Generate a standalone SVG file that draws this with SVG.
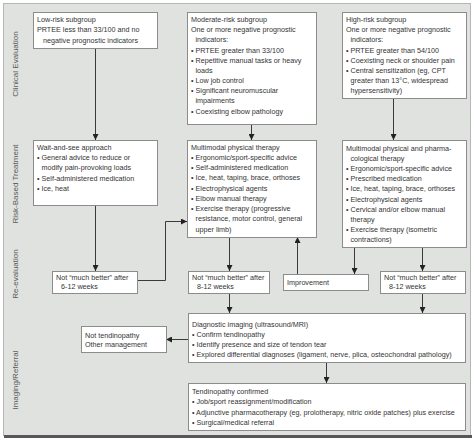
<svg xmlns="http://www.w3.org/2000/svg" width="474" height="438" viewBox="0 0 474 438">
<style>
.box{fill:#fff;stroke:#8c8c8c;stroke-width:1}
.t{font-family:"Liberation Sans",Arial,sans-serif;font-size:7.2px;fill:#333}
.lane{font-family:"Liberation Sans",Arial,sans-serif;font-size:8px;fill:#5a5a5a;text-anchor:middle}
.c{stroke:#3a3a3a;stroke-width:1;fill:none;marker-end:url(#ah)}
</style>
<defs>
<marker id="ah" markerUnits="userSpaceOnUse" markerWidth="6" markerHeight="6" refX="6" refY="3" orient="auto">
<path d="M0,0 L6,3 L0,6 z" fill="#222"/>
</marker>
</defs>
<rect x="0" y="0" width="474" height="438" fill="#fff"/>
<rect x="3.5" y="3.5" width="467" height="432" fill="#dfe2df" stroke="#b4b7b4"/>
<rect x="4" y="435" width="468" height="3" fill="#575757"/>

<g id="lanes">
<text class="lane" transform="translate(18,64) rotate(-90)">Clinical Evaluation</text>
<text class="lane" transform="translate(18,184) rotate(-90)">Risk-Based Treatment</text>
<text class="lane" transform="translate(18,274) rotate(-90)">Re-evaluation</text>
<text class="lane" transform="translate(18,380) rotate(-90)">Imaging/Referral</text>
</g>

<g id="connectors">
<line class="c" x1="95.5" y1="48" x2="95.5" y2="140"/>
<line class="c" x1="251.5" y1="124" x2="251.5" y2="140"/>
<line class="c" x1="393.5" y1="98" x2="393.5" y2="140"/>
<line class="c" x1="95.5" y1="205" x2="95.5" y2="271"/>
<polyline class="c" points="137,280.5 165.5,280.5 165.5,221.5 187,221.5"/>
<line class="c" x1="229.5" y1="237" x2="229.5" y2="271"/>
<line class="c" x1="297.5" y1="274" x2="297.5" y2="237"/>
<line class="c" x1="354.5" y1="247" x2="354.5" y2="274"/>
<line class="c" x1="422.5" y1="247" x2="422.5" y2="271"/>
<line class="c" x1="229.5" y1="293" x2="229.5" y2="313"/>
<line class="c" x1="422.5" y1="293" x2="422.5" y2="313"/>
<line class="c" x1="188" y1="339.5" x2="166" y2="339.5"/>
<line class="c" x1="326.5" y1="362" x2="326.5" y2="383"/>
</g>

<g id="low-risk">
<rect class="box" x="33.5" y="12.5" width="124" height="36"/>
<text class="t" x="37" y="22">Low-risk subgroup</text>
<text class="t" x="37" y="32">PRTEE less than 33/100 and no</text>
<text class="t" x="43" y="42.5">negative prognostic indicators</text>
</g>

<g id="moderate-risk">
<rect class="box" x="187.5" y="12.5" width="129" height="112"/>
<text class="t" x="191" y="22">Moderate-risk subgroup</text>
<text class="t" x="191" y="32">One or more negative prognostic</text>
<text class="t" x="195.5" y="42">indicators:</text>
<text class="t" x="191" y="52.5">• PRTEE greater than 33/100</text>
<text class="t" x="191" y="62.5">• Repetitive manual tasks or heavy</text>
<text class="t" x="195.5" y="72.5">loads</text>
<text class="t" x="191" y="83">• Low job control</text>
<text class="t" x="191" y="93">• Significant neuromuscular</text>
<text class="t" x="195.5" y="103">impairments</text>
<text class="t" x="191" y="113.5">• Coexisting elbow pathology</text>
</g>

<g id="high-risk">
<rect class="box" x="342.5" y="12.5" width="124" height="86"/>
<text class="t" x="346" y="22">High-risk subgroup</text>
<text class="t" x="346" y="32">One or more negative prognostic</text>
<text class="t" x="350.5" y="42">indicators:</text>
<text class="t" x="346" y="52.5">• PRTEE greater than 54/100</text>
<text class="t" x="346" y="62.5">• Coexisting neck or shoulder pain</text>
<text class="t" x="346" y="72.5">• Central sensitization (eg, CPT</text>
<text class="t" x="350.5" y="83">greater than 13°C, widespread</text>
<text class="t" x="350.5" y="93">hypersensitivity)</text>
</g>

<g id="wait-and-see">
<rect class="box" x="33.5" y="140.5" width="124" height="65"/>
<text class="t" x="37" y="150">Wait-and-see approach</text>
<text class="t" x="37" y="160">• General advice to reduce or</text>
<text class="t" x="41.5" y="170">modify pain-provoking loads</text>
<text class="t" x="37" y="180.5">• Self-administered medication</text>
<text class="t" x="37" y="190.5">• Ice, heat</text>
</g>

<g id="multimodal">
<rect class="box" x="187.5" y="140.5" width="129" height="97"/>
<text class="t" x="191" y="149.5">Multimodal physical therapy</text>
<text class="t" x="191" y="159.8">• Ergonomic/sport-specific advice</text>
<text class="t" x="191" y="170">• Self-administered medication</text>
<text class="t" x="191" y="180.3">• Ice, heat, taping, brace, orthoses</text>
<text class="t" x="191" y="190.5">• Electrophysical agents</text>
<text class="t" x="191" y="200.8">• Elbow manual therapy</text>
<text class="t" x="191" y="211">• Exercise therapy (progressive</text>
<text class="t" x="195.5" y="221.3">resistance, motor control, general</text>
<text class="t" x="195.5" y="231.5">upper limb)</text>
</g>

<g id="multimodal-pharma">
<rect class="box" x="342.5" y="140.5" width="124" height="107"/>
<text class="t" x="346" y="150.5">Multimodal physical and pharma-</text>
<text class="t" x="350.5" y="160.7">cological therapy</text>
<text class="t" x="346" y="170.9">• Ergonomic/sport-specific advice</text>
<text class="t" x="346" y="181.1">• Prescribed medication</text>
<text class="t" x="346" y="191.3">• Ice, heat, taping, brace, orthoses</text>
<text class="t" x="346" y="201.5">• Electrophysical agents</text>
<text class="t" x="346" y="211.7">• Cervical and/or elbow manual</text>
<text class="t" x="350.5" y="221.9">therapy</text>
<text class="t" x="346" y="232.1">• Exercise therapy (isometric</text>
<text class="t" x="350.5" y="242.3">contractions)</text>
</g>

<g id="reeval-low">
<rect class="box" x="52.5" y="271.5" width="85" height="22"/>
<text class="t" x="56" y="279.5">Not “much better” after</text>
<text class="t" x="61" y="289">6-12 weeks</text>
</g>

<g id="reeval-moderate">
<rect class="box" x="188.5" y="271.5" width="81" height="22"/>
<text class="t" x="192" y="279.5">Not “much better” after</text>
<text class="t" x="197" y="289">8-12 weeks</text>
</g>

<g id="improvement">
<rect class="box" x="283.5" y="274.5" width="85" height="16"/>
<text class="t" x="287" y="285">Improvement</text>
</g>

<g id="reeval-high">
<rect class="box" x="380.5" y="271.5" width="85" height="22"/>
<text class="t" x="384" y="279.5">Not “much better” after</text>
<text class="t" x="389" y="289">8-12 weeks</text>
</g>

<g id="diagnostic-imaging">
<rect class="box" x="188.5" y="313.5" width="277" height="49"/>
<text class="t" x="192" y="326.5">Diagnostic imaging (ultrasound/MRI)</text>
<text class="t" x="192" y="336.5">• Confirm tendinopathy</text>
<text class="t" x="192" y="346.7">• Identify presence and size of tendon tear</text>
<text class="t" x="192" y="357">• Explored differential diagnoses (ligament, nerve, plica, osteochondral pathology)</text>
</g>

<g id="not-tendinopathy">
<rect class="box" x="81.5" y="326.5" width="85" height="26"/>
<text class="t" x="85" y="337.5">Not tendinopathy</text>
<text class="t" x="85" y="347">Other management</text>
</g>

<g id="tendinopathy-confirmed">
<rect class="box" x="188.5" y="383.5" width="277" height="47"/>
<text class="t" x="192" y="394">Tendinopathy confirmed</text>
<text class="t" x="192" y="404.3">• Job/sport reassignment/modification</text>
<text class="t" x="192" y="414.6">• Adjunctive pharmacotherapy (eg, prolotherapy, nitric oxide patches) plus exercise</text>
<text class="t" x="192" y="425">• Surgical/medical referral</text>
</g>
</svg>
